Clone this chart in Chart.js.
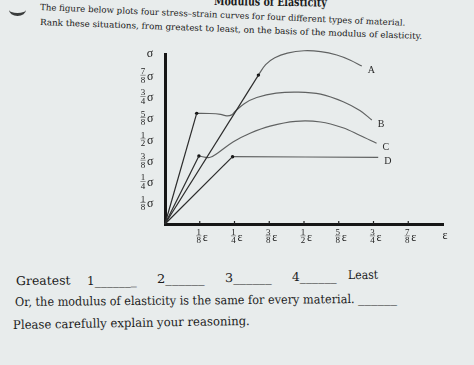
<!DOCTYPE html>
<html><head><meta charset="utf-8">
<script src="https://cdn.jsdelivr.net/npm/chart.js@4.4.1/dist/chart.umd.min.js"></script>
<style>
html,body{margin:0;padding:0;}
body{width:474px;height:365px;overflow:hidden;background:#e8ecec;position:relative;font-family:"DejaVu Serif",serif;color:#1c1c1c;}
.t{position:absolute;white-space:nowrap;line-height:1;transform-origin:0 50%;}
#c{position:absolute;left:0;top:0;z-index:2;}
#punch{position:absolute;left:9px;top:4px;width:17px;height:9px;border-radius:50%;border-bottom:3px solid #3a3d3d;}
</style></head>
<body>
<div id="punch"></div>
<div class="t" data-x="214" data-y="1" data-w="113" data-r="0.8" style="font-weight:bold;font-size:12px">Modulus of Elasticity</div>
<div class="t" data-x="40" data-y="7.5" data-w="366" data-r="2.45" style="font-size:8.5px;color:#222">The figure below plots four stress–strain curves for four different types of material.</div>
<div class="t" data-x="40" data-y="22.5" data-w="382" data-r="2.1" style="font-size:8.5px;color:#151515">Rank these situations, from greatest to least, on the basis of the modulus of elasticity.</div>

<div class="t" data-x="16" data-y="281" data-w="54" data-r="-0.5" style="font-size:12px">Greatest</div>
<div class="t" data-x="87" data-y="280.5" data-w="50" data-r="-0.5" style="font-size:12px">1_______</div>
<div class="t" data-x="157" data-y="279.3" data-w="48" data-r="-0.5" style="font-size:12px">2______</div>
<div class="t" data-x="225" data-y="278.2" data-w="47" data-r="-0.5" style="font-size:12px">3______</div>
<div class="t" data-x="292" data-y="277.2" data-w="45" data-r="-0.5" style="font-size:12px">4______</div>
<div class="t" data-x="348" data-y="274.8" data-w="30" data-r="-0.5" style="font-size:12px">Least</div>
<div class="t" data-x="15" data-y="302" data-w="340" data-r="-0.5" style="font-size:12px">Or, the modulus of elasticity is the same for every material.</div>
<div class="t" data-x="358" data-y="299" data-w="39" data-r="-0.5" style="font-size:12px">______</div>
<div class="t" data-x="13" data-y="325" data-w="237" data-r="-1" style="font-size:12px">Please carefully explain your reasoning.</div>

<canvas id="c" width="474" height="365"></canvas>
<script>
// ---- tick labels ----
const xTickValues = [0.125, 0.25, 0.375, 0.5, 0.625, 0.75, 0.875, 1];
const xTickLabels = ['1/8 ε', '1/4 ε', '3/8 ε', '1/2 ε', '5/8 ε', '3/4 ε', '7/8 ε', 'ε'];
const yTickValues = [0.125, 0.25, 0.375, 0.5, 0.625, 0.75, 0.875, 1];
const yTickLabels = ['1/8 σ', '1/4 σ', '3/8 σ', '1/2 σ', '5/8 σ', '3/4 σ', '7/8 σ', 'σ'];

// ---- curves (strain in units of ε, stress in units of σ); index 1 = end of straight part ----
const materials = ['A', 'B', 'C', 'D'];
const strainA = [0, 0.336, 0.362, 0.395, 0.440, 0.500, 0.560, 0.618, 0.665, 0.708];
const stressA = [0, 0.876, 0.938, 0.978, 1.005, 1.019, 1.014, 0.994, 0.965, 0.929];
const strainB = [0, 0.114, 0.160, 0.200, 0.222, 0.240, 0.252, 0.285, 0.330, 0.400, 0.480, 0.560, 0.641, 0.701, 0.744];
const stressB = [0, 0.651, 0.650, 0.645, 0.636, 0.642, 0.662, 0.708, 0.744, 0.770, 0.776, 0.764, 0.719, 0.667, 0.612];
const strainC = [0, 0.122, 0.160, 0.190, 0.246, 0.306, 0.378, 0.470, 0.560, 0.640, 0.700, 0.761];
const stressC = [0, 0.400, 0.391, 0.418, 0.484, 0.534, 0.576, 0.604, 0.600, 0.566, 0.522, 0.475];
const strainD = [0, 0.243, 0.767];
const stressD = [0, 0.396, 0.392];

// ---- position HTML text ----
document.querySelectorAll('.t').forEach(el => {
  const x = +el.dataset.x, y = +el.dataset.y, w = +el.dataset.w, r = +el.dataset.r || 0;
  const s = w / el.offsetWidth;
  el.style.left = x + 'px';
  el.style.top = (y - el.offsetHeight / 2) + 'px';
  el.style.transform = `rotate(${r}deg) scaleX(${s})`;
});

// ---- build datasets ----
const curveSets = [[strainA, stressA], [strainB, stressB], [strainC, stressC], [strainD, stressD]];
const datasets = [];
curveSets.forEach(([sx, sy], k) => {
  const pts = sx.map((v, i) => ({x: v, y: sy[i]}));
  datasets.push({
    label: materials[k] + ' elastic', data: pts.slice(0, 2),
    borderColor: '#2b2b2b', borderWidth: 1.2, pointRadius: 0, tension: 0, clip: false
  });
  datasets.push({
    label: materials[k], data: pts.slice(1),
    borderColor: '#606262', borderWidth: 1.2, tension: 0.35, clip: false,
    pointRadius: pts.slice(1).map((p, i) => i === 0 ? 1.7 : 0),
    pointBackgroundColor: '#111', pointBorderWidth: 0
  });
});

function drawTickLabel(ctx, label, cx, cy) {
  const parts = label.split(' ');
  ctx.fillStyle = '#1c1c1c';
  ctx.textBaseline = 'alphabetic';
  if (parts.length === 2) {
    const [num, den] = parts[0].split('/');
    ctx.font = '9px "Liberation Serif"';
    ctx.textAlign = 'center';
    ctx.fillText(num, cx, cy - 1.2);
    ctx.fillText(den, cx, cy + 7.4);
    ctx.fillStyle = '#555';
    ctx.fillRect(cx - 2.6, cy - 0.4, 5.2, 0.6);
    ctx.fillStyle = '#1c1c1c';
    ctx.font = '12px "Liberation Serif"';
    ctx.textAlign = 'left';
    ctx.fillText(parts[1], cx + 4, cy + 4.5);
  } else {
    ctx.font = '12px "Liberation Serif"';
    ctx.textAlign = 'center';
    ctx.fillText(parts[0], cx, cy + 3);
  }
}

const decorPlugin = {
  id: 'decor',
  afterDraw(chart) {
    const ctx = chart.ctx, xs = chart.scales.x, ys = chart.scales.y;
    ctx.save();
    ctx.strokeStyle = '#222'; ctx.lineWidth = 1.2;
    xTickValues.slice(0, -1).forEach(v => {
      const px = xs.getPixelForValue(v);
      ctx.beginPath(); ctx.moveTo(px, ys.bottom); ctx.lineTo(px, ys.bottom - 3); ctx.stroke();
    });
    xTickValues.forEach((v, i) => {
      const px = xs.getPixelForValue(v);
      drawTickLabel(ctx, xTickLabels[i], i === xTickValues.length - 1 ? px + 2 : px - 1, ys.bottom + 12);
    });
    yTickValues.forEach((v, i) => {
      const py = ys.getPixelForValue(v);
      drawTickLabel(ctx, yTickLabels[i], i === yTickValues.length - 1 ? xs.left - 15 : xs.left - 22, py);
    });
    ctx.font = '10px "Liberation Serif"';
    ctx.fillStyle = '#2a2a2a'; ctx.textAlign = 'left'; ctx.textBaseline = 'middle';
    curveSets.forEach(([sx, sy], k) => {
      const n = sx.length - 1;
      const px = xs.getPixelForValue(sx[n]), py = ys.getPixelForValue(sy[n]);
      ctx.fillText(materials[k], px + 6, py + 4);
    });
    ctx.restore();
  }
};

new Chart(document.getElementById('c'), {
  type: 'line',
  data: {datasets},
  options: {
    responsive: false, animation: false, devicePixelRatio: 1,
    layout: {padding: {left: 165, right: 31, top: 54, bottom: 141}},
    plugins: {legend: {display: false}, tooltip: {enabled: false}},
    scales: {
      x: {type: 'linear', min: 0, max: 1,
          grid: {display: false, drawTicks: false},
          ticks: {display: false},
          border: {display: true, color: '#161616', width: 3}},
      y: {type: 'linear', min: 0, max: 1,
          grid: {display: false, drawTicks: false},
          ticks: {display: false},
          border: {display: true, color: '#161616', width: 3}}
    }
  },
  plugins: [decorPlugin]
});
</script>
</body></html>
